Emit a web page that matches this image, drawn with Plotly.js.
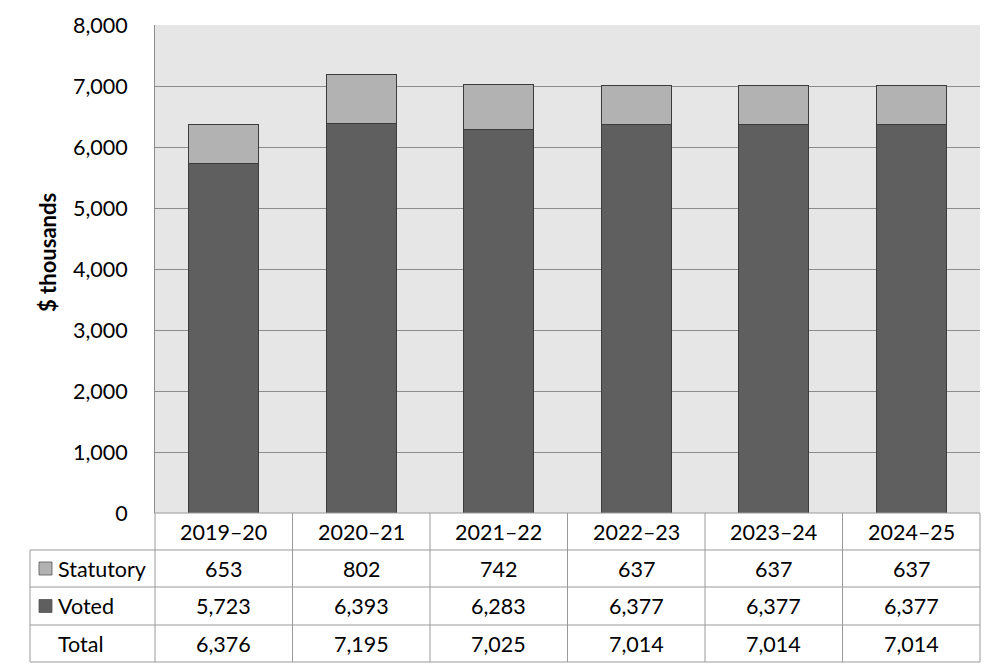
<!DOCTYPE html>
<html>
<head>
<meta charset="utf-8">
<script src="https://cdn.plot.ly/plotly-3.0.1.min.js"></script>
<style>html,body{margin:0;padding:0;background:#fff;}#chart{width:989px;height:671px;}</style>
</head>
<body>
<div id="chart"></div>
<script>
const categories = ["2019–20", "2020–21", "2021–22", "2022–23", "2023–24", "2024–25"];
const statutory = [653, 802, 742, 637, 637, 637];
const voted = [5723, 6393, 6283, 6377, 6377, 6377];
const total = [6376, 7195, 7025, 7014, 7014, 7014];
const rowLabels = ["Statutory", "Voted", "Total"];
const yTicks = [0, 1000, 2000, 3000, 4000, 5000, 6000, 7000, 8000];
const yTitle = "$ thousands";

const W = 989, H = 671;
const plotL = 155, plotR = 980, plotT = 25, plotB = 513;
const plotH = plotB - plotT, plotW = plotR - plotL;
const rowEdges = [513, 550, 587, 625, 662];
const tableLeft = 30;
const py = p => (plotB - p) / plotH;          // pixel y -> paper y
const px = p => (p - plotL) / plotW;          // pixel x -> paper x
const fmt = v => v.toLocaleString('en-US');

const FONT = 'Lato, "Open Sans", sans-serif';
const darkFill = '#5f5f5f', lightFill = '#b2b2b2', barLine = '#3c3c3c';
const tableLine = '#9a9a9a';
const FS = 21.5;

const traces = [
  {type: 'bar', name: 'Voted', x: categories, y: voted,
   marker: {color: darkFill, line: {color: barLine, width: 1}}, width: 0.51},
  {type: 'bar', name: 'Statutory', x: categories, y: statutory,
   marker: {color: lightFill, line: {color: barLine, width: 1}}, width: 0.51}
];

const shapes = [];
const annotations = [];
const n = categories.length;
rowEdges.forEach((e, i) => {
  shapes.push({type: 'line', xref: 'paper', yref: 'paper',
    x0: i === 0 ? 0 : px(tableLeft), x1: 1, y0: py(e), y1: py(e),
    line: {color: tableLine, width: 1}});
});
for (let i = 0; i <= n; i++) {
  shapes.push({type: 'line', xref: 'paper', yref: 'paper',
    x0: i / n, x1: i / n, y0: py(rowEdges[0]), y1: py(rowEdges[4]),
    line: {color: tableLine, width: 1}});
}
shapes.push({type: 'line', xref: 'paper', yref: 'paper',
  x0: px(tableLeft), x1: px(tableLeft), y0: py(rowEdges[1]), y1: py(rowEdges[4]),
  line: {color: tableLine, width: 1}});

[lightFill, darkFill].forEach((c, i) => {
  const cy = (rowEdges[i + 1] + rowEdges[i + 2]) / 2;
  shapes.push({type: 'rect', xref: 'paper', yref: 'paper',
    x0: px(39), x1: px(52), y0: py(cy - 6.5), y1: py(cy + 6.5),
    fillcolor: c, line: {color: '#555', width: 0.8}});
});

const tfont = {family: FONT, size: FS, color: '#000'};
categories.forEach((c, i) => {
  annotations.push({xref: 'x', yref: 'paper', x: c, y: py((rowEdges[0] + rowEdges[1]) / 2),
    text: c, showarrow: false, font: tfont, xanchor: 'center', yanchor: 'middle'});
});
const rows = [statutory, voted, total];
rows.forEach((arr, r) => {
  const cy = py((rowEdges[r + 1] + rowEdges[r + 2]) / 2);
  annotations.push({xref: 'paper', yref: 'paper', x: px(56), y: cy,
    text: rowLabels[r], showarrow: false, font: tfont, xanchor: 'left', yanchor: 'middle'});
  arr.forEach((v, i) => {
    annotations.push({xref: 'x', yref: 'paper', x: categories[i], y: cy,
      text: fmt(v), showarrow: false, font: tfont, xanchor: 'center', yanchor: 'middle'});
  });
});
// y-axis title (placed as in the reference, slightly above plot centre)
annotations.push({xref: 'paper', yref: 'paper', x: px(47), y: py(252),
  text: '<b>' + yTitle + '</b>', textangle: -90, showarrow: false,
  font: {family: FONT, size: 22, color: '#000'}, xanchor: 'center', yanchor: 'middle'});

const layout = {
  width: W, height: H,
  margin: {l: plotL, r: W - plotR, t: plotT, b: H - plotB, pad: 0},
  paper_bgcolor: '#ffffff', plot_bgcolor: '#e6e6e6',
  barmode: 'stack', showlegend: false,
  font: {family: FONT, size: FS, color: '#000'},
  xaxis: {type: 'category', range: [-0.5, n - 0.5], showticklabels: false,
    showgrid: false, zeroline: false, showline: false, ticks: ''},
  yaxis: {range: [0, 8000], tickvals: yTicks, ticktext: yTicks.map(fmt),
    showgrid: true, gridcolor: '#8c8c8c', gridwidth: 1, zeroline: false,
    showline: true, linecolor: '#8c8c8c', linewidth: 1, ticks: '',
    ticklabelstandoff: 22,
    tickfont: {family: FONT, size: FS, color: '#000'}},
  shapes: shapes, annotations: annotations
};

Plotly.newPlot('chart', traces, layout, {displayModeBar: false, staticPlot: true});
</script>
</body>
</html>
